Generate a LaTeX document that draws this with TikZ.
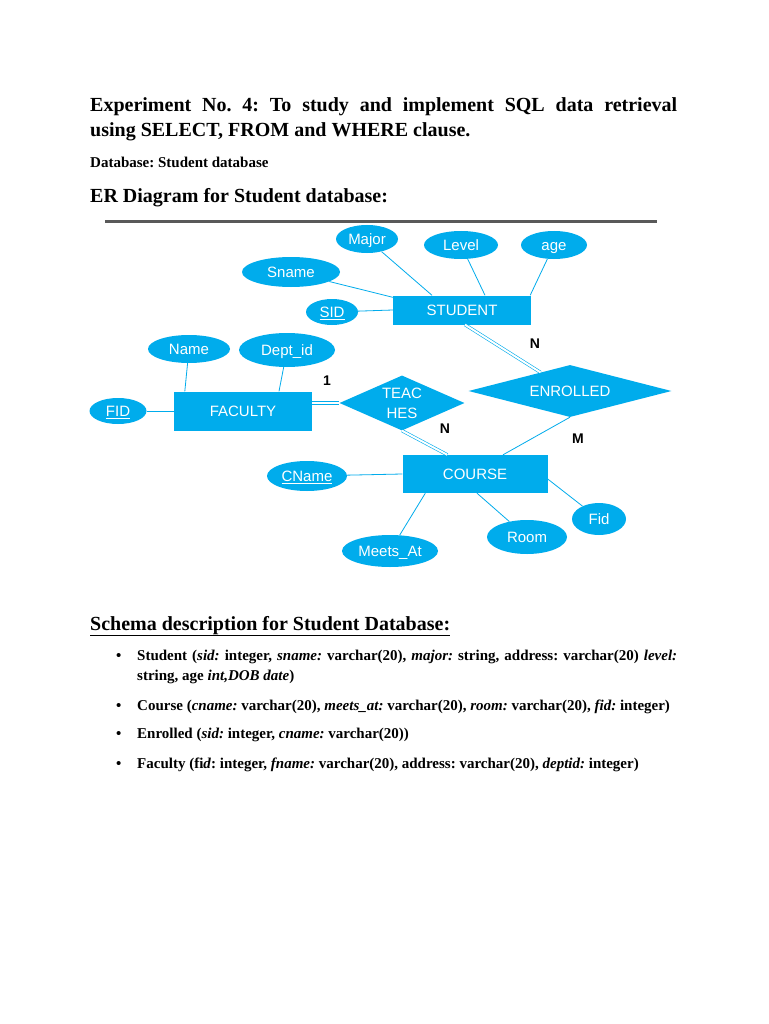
\documentclass[tikz,border=0pt]{standalone}
\usepackage{fontspec}
\setmainfont{Liberation Serif}
\newfontfamily\erfont{Liberation Sans}
\usetikzlibrary{positioning,calc,shapes.geometric}
\definecolor{erblue}{RGB}{0,172,236}
\frenchspacing

\begin{document}
\begin{tikzpicture}[
    x=1pt, y=-1pt,
    ent/.style={fill=erblue, text=white, inner sep=0pt,
                text height=11pt, text depth=0pt,
                font=\erfont\fontsize{15}{18}\selectfont},
    attr/.style={ellipse, fill=erblue, text=white, inner sep=0pt,
                 text height=11pt, text depth=0pt,
                 font=\erfont\fontsize{15}{18}\selectfont},
    rel/.style={diamond, fill=erblue, text=white, inner sep=0pt,
                align=center, font=\erfont\fontsize{15}{20}\selectfont},
    card/.style={inner sep=0pt, font=\erfont\bfseries\fontsize{14}{16}\selectfont},
    lnk/.style={draw=erblue, line width=0.8pt},
    dbl/.style={draw=erblue, line width=0.6pt, double=white,
                double distance=2pt},
    head/.style={anchor=base west, inner sep=0pt,
                 font=\bfseries\fontsize{20}{25}\selectfont},
    item/.style={anchor=base west, inner sep=0pt,
                 font=\bfseries\fontsize{15}{18}\selectfont},
  ]
  \fill[white] (0,0) rectangle (768,1024);
  \useasboundingbox (0,0) rectangle (768,1024);

  % ---------------------------------------------------------------
  % Page heading
  % ---------------------------------------------------------------
  \node[head] (title1) at (90,112)
    {\makebox[587pt][s]{Experiment No. 4: To study and implement SQL data retrieval}};
  \node[head] (title2) at (90,137) {using SELECT, FROM and WHERE clause.};
  \node[anchor=base west, inner sep=0pt, font=\bfseries\fontsize{15}{18}\selectfont]
    (dbname) at (90,168) {Database: Student database};
  \node[head] (erhead) at (90,203) {ER Diagram for Student database:};

  \coordinate (ruleL) at (105,222);
  \coordinate (ruleR) at (657,222);
  \draw[black!65, line width=3pt] (ruleL) -- (ruleR);

  % ---------------------------------------------------------------
  % Entities and relationships
  % ---------------------------------------------------------------
  \node[ent, minimum width=138pt, minimum height=29pt] (student) at (462,310) {STUDENT};
  \node[ent, minimum width=138pt, minimum height=39pt] (faculty) at (243,411) {FACULTY};
  \node[ent, minimum width=145pt, minimum height=38pt] (course) at (475,474) {COURSE};

  \node[rel, aspect=2.27, minimum width=125pt, minimum height=55pt]
    (teaches) at (402,403) {TEAC\\HES};
  \node[rel, aspect=3.9, minimum width=203pt, minimum height=52pt,
        text height=11pt, text depth=0pt]
    (enrolled) at (570,391) {ENROLLED};

  % attributes
  \node[attr, minimum width=62pt, minimum height=28pt] (major) at (367,239) {Major};
  \node[attr, minimum width=74pt, minimum height=28pt] (level) at (461,245) {Level};
  \node[attr, minimum width=66pt, minimum height=28pt] (age) at (554,245) {age};
  \node[attr, minimum width=98pt, minimum height=30pt] (sname) at (291,272) {Sname};
  \node[attr, minimum width=52pt, minimum height=26pt] (sid) at (332,312) {\underline{SID}};

  \node[attr, minimum width=82pt, minimum height=28pt] (name) at (189,349) {Name};
  \node[attr, minimum width=96pt, minimum height=34pt] (deptid) at (287,350) {Dept\_id};
  \node[attr, minimum width=57pt, minimum height=26pt] (fid) at (118,411) {\underline{FID}};

  \node[attr, minimum width=80pt, minimum height=30pt] (cname) at (307,476) {\underline{CName}};
  \node[attr, minimum width=96pt, minimum height=32pt] (meetsat) at (390,551) {Meets\_At};
  \node[attr, minimum width=80pt, minimum height=34pt] (room) at (527,537) {Room};
  \node[attr, minimum width=54pt, minimum height=32pt] (fidc) at (599,519) {Fid};

  % ---------------------------------------------------------------
  % Connectors
  % ---------------------------------------------------------------
  \draw[lnk] (major) -- ([xshift=-30pt]student.north);
  \draw[lnk] (level) -- ([xshift=23pt]student.north);
  \draw[lnk] (age) -- ([xshift=-1pt]student.north east);
  \draw[lnk] (sname) -- ([yshift=-2pt]student.north west);
  \draw[lnk] (sid) -- (student.west);
  \draw[dbl] ([xshift=3pt]student.south) -- (enrolled);

  \draw[lnk] (name) -- ([xshift=11pt]faculty.north west);
  \draw[lnk] (deptid) -- ([xshift=36pt]faculty.north);
  \draw[lnk] (fid) -- (faculty.west);
  \draw[dbl] ([yshift=8pt]faculty.east) -- (teaches.west);

  \draw[dbl] (teaches.south) -- ([xshift=45pt]course.north west);
  \draw[lnk] (enrolled.south) -- ([xshift=28pt]course.north);
  \draw[lnk] (cname) -- (course.west);
  \draw[lnk] (meetsat) -- ([xshift=23pt]course.south west);
  \draw[lnk] (room) -- ([xshift=2pt]course.south);
  \draw[lnk] (fidc) -- ([yshift=-5pt]course.east);

  % cardinalities
  \node[card] (c1) at (327,381) {1};
  \node[card] (cN1) at (535,344) {N};
  \node[card] (cN2) at (445,429) {N};
  \node[card] (cM) at (578,439) {M};

  % ---------------------------------------------------------------
  % Schema description
  % ---------------------------------------------------------------
  \node[head] (schemahead) at (90,630)
    {\underline{Schema description for Student Database:}};

  \node[item] (b1) at (116,660) {\textbullet};
  \node[item] (s1a) at (137,660)
    {\makebox[540pt][s]{Student (\textit{sid:} integer, \textit{sname:} varchar(20), \textit{major:} string, address: varchar(20) \textit{level:}}};
  \node[item] (s1b) at (137,680) {string, age \textit{int,DOB date})};
  \node[item] (b2) at (116,710) {\textbullet};
  \node[item] (s2) at (137,710)
    {Course (\textit{cname:} varchar(20), \textit{meets\_at:} varchar(20), \textit{room:} varchar(20), \textit{fid:} integer)};
  \node[item] (b3) at (116,738) {\textbullet};
  \node[item] (s3) at (137,738) {Enrolled (\textit{sid:} integer, \textit{cname:} varchar(20))};
  \node[item] (b4) at (116,768) {\textbullet};
  \node[item] (s4) at (137,768)
    {Faculty (fi\textit{d}: integer, \textit{fname:} varchar(20), address: varchar(20), \textit{deptid:} integer)};
\end{tikzpicture}
\end{document}
